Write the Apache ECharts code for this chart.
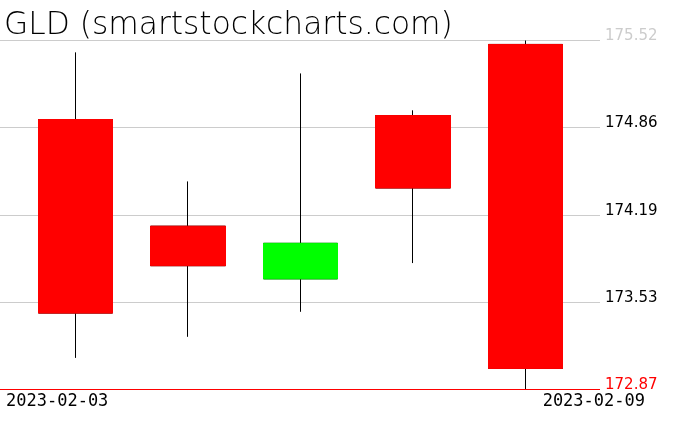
<!DOCTYPE html>
<html>
<head>
<meta charset="utf-8">
<script src="https://cdn.jsdelivr.net/npm/echarts@6/dist/echarts.min.js"></script>
<style>html,body{margin:0;padding:0;background:#fff}#c{width:676px;height:431px}</style>
</head>
<body>
<div id="c"></div>
<script>
var titleText = 'GLD (smartstockcharts.com)';
var dates = ['2023-02-03', '2023-02-06', '2023-02-07', '2023-02-08', '2023-02-09'];
var opens = [174.92, 174.11, 173.71, 174.95, 175.49];
var closes = [173.45, 173.81, 173.98, 174.40, 173.03];
var lows = [173.11, 173.27, 173.46, 173.83, 172.87];
var highs = [175.43, 174.45, 175.27, 174.99, 175.52];
var tickLabels = [172.87, 173.53, 174.19, 174.86, 175.52];

var yMin = tickLabels[0], yMax = tickLabels[tickLabels.length - 1];
var full = dates.map(function (d, i) { return [opens[i], closes[i], lows[i], highs[i]]; });
var bodies = dates.map(function (d, i) {
  return [opens[i], closes[i], Math.min(opens[i], closes[i]), Math.max(opens[i], closes[i])];
});

var chart = echarts.init(document.getElementById('c'), null, {renderer: 'canvas'});
chart.setOption({
  animation: false,
  backgroundColor: '#fff',
  title: [
    {text: titleText, left: -1, top: 5, textStyle: {fontFamily: "'DejaVu Sans ExtraLight', 'DejaVu Sans'", fontSize: 31.3, fontWeight: 200, color: '#000'}},
    {text: dates[0], left: 1, top: 388, textStyle: {fontFamily: 'DejaVu Sans Mono', fontSize: 17, fontWeight: 'normal', color: '#000'}},
    {text: dates[dates.length - 1], right: 26, top: 388, textStyle: {fontFamily: 'DejaVu Sans Mono', fontSize: 17, fontWeight: 'normal', color: '#000'}}
  ],
  grid: [
    {left: 19, right: 94, top: 40.5, bottom: 41.5},
    {left: 0, right: 76, top: 40.5, bottom: 41.5}
  ],
  xAxis: [
    {type: 'category', gridIndex: 0, data: dates, show: false},
    {type: 'category', gridIndex: 1, data: dates, show: false}
  ],
  yAxis: [
    {type: 'value', gridIndex: 0, min: yMin, max: yMax, show: false, splitLine: {show: false}},
    {type: 'value', gridIndex: 1, min: yMin, max: yMax, position: 'right',
     axisLine: {show: false},
     axisTick: {show: false, customValues: tickLabels},
     splitLine: {show: true, showMinLine: false, showMaxLine: true, lineStyle: {color: '#cccccc', width: 1}},
     axisLabel: {
       customValues: tickLabels,
       margin: 5,
       fontFamily: 'DejaVu Sans', fontSize: 15, lineHeight: 9, verticalAlign: 'bottom',
       formatter: function (v) { return v.toFixed(2); },
       color: function (v) {
         if (Math.abs(v - yMax) < 1e-6) return '#cccccc';
         if (Math.abs(v - yMin) < 1e-6) return '#ff0000';
         return '#000000';
       }
     }}
  ],
  series: [
    {type: 'line', xAxisIndex: 1, yAxisIndex: 1, data: [], silent: true, z: 10,
     markLine: {silent: true, symbol: ['none', 'none'], label: {show: false}, z: 10,
       lineStyle: {color: '#ff0000', type: 'solid', width: 1, opacity: 1},
       emphasis: {disabled: true},
       data: [{yAxis: yMin, lineStyle: {color: '#ff0000'}}]}},
    {type: 'candlestick', xAxisIndex: 0, yAxisIndex: 0, data: full, barWidth: 75, z: 3,
     itemStyle: {color: '#00ff00', color0: '#ff0000', borderColor: '#000000', borderColor0: '#000000', borderWidth: 1}},
    {type: 'candlestick', xAxisIndex: 0, yAxisIndex: 0, data: bodies, barWidth: 75, z: 4,
     itemStyle: {color: '#00ff00', color0: '#ff0000', borderColor: '#00ff00', borderColor0: '#ff0000', borderWidth: 1}}
  ]
});
</script>
</body>
</html>
